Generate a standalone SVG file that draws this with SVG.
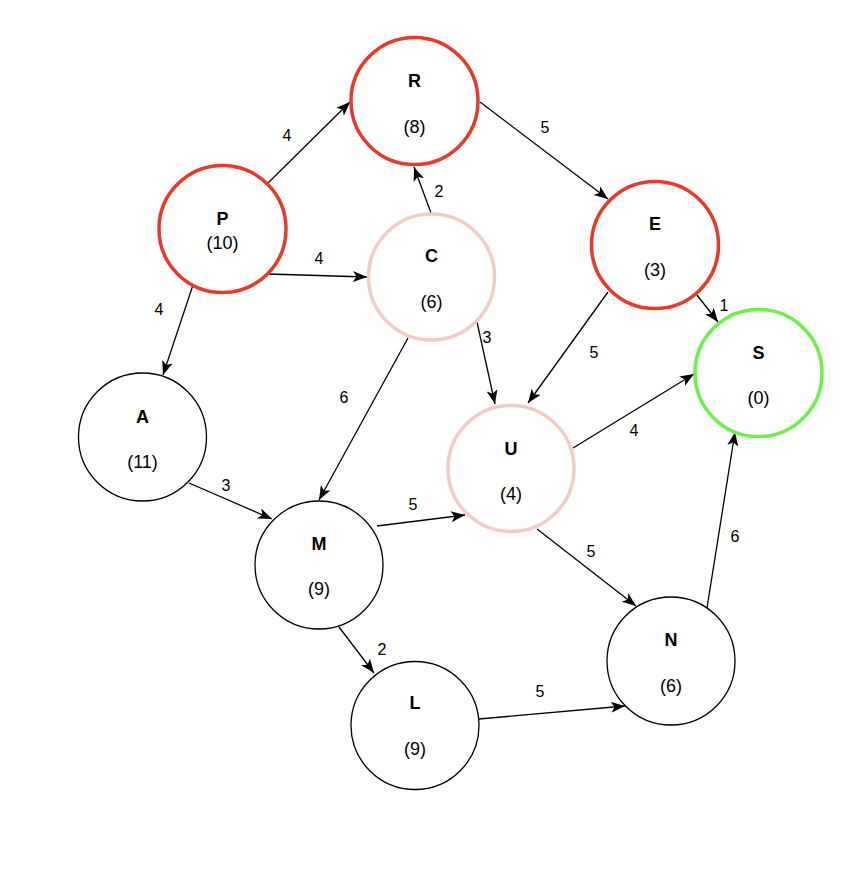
<svg xmlns="http://www.w3.org/2000/svg" width="860" height="872" viewBox="0 0 860 872">
<style>
.n{fill:#fff}
.red{stroke:#E8392B;stroke-width:3.5}
.pink{stroke:#EFCDC9;stroke-width:3.5}
.green{stroke:#6EF04C;stroke-width:3.5}
.blk{stroke:#000;stroke-width:1.3}
.t{font-family:"Liberation Sans",Arial,sans-serif;font-size:18px;text-anchor:middle;fill:#000}
.b{font-weight:bold}
.e{stroke:#000;stroke-width:1.3;fill:none;marker-end:url(#arr)}
.l{font-family:"Liberation Sans",Arial,sans-serif;font-size:16px;text-anchor:middle;fill:#000}
</style>
<defs>
<marker id="arr" markerUnits="userSpaceOnUse" markerWidth="16" markerHeight="14" refX="14" refY="5.5" orient="auto">
<path d="M0,0 L14,5.5 L0,11 L3.5,5.5 Z" fill="#000"/>
</marker>
</defs>
<rect width="860" height="872" fill="#fff"/>
<g id="connectors">
<line class="e" x1="268" y1="183" x2="350" y2="102"/>
<line class="e" x1="480" y1="102" x2="608" y2="199"/>
<line class="e" x1="431" y1="213" x2="414" y2="167"/>
<line class="e" x1="268" y1="274" x2="367" y2="277"/>
<line class="e" x1="193" y1="285" x2="163" y2="375"/>
<line class="e" x1="697" y1="295" x2="718" y2="322"/>
<line class="e" x1="608" y1="292" x2="528" y2="403"/>
<line class="e" x1="477" y1="322" x2="495" y2="404"/>
<line class="e" x1="573" y1="448" x2="694" y2="374"/>
<line class="e" x1="408" y1="338" x2="319" y2="500"/>
<line class="e" x1="189" y1="483" x2="272" y2="519"/>
<line class="e" x1="377" y1="526" x2="465" y2="515"/>
<line class="e" x1="537" y1="529" x2="636" y2="606"/>
<line class="e" x1="707" y1="608" x2="735" y2="432"/>
<line class="e" x1="339" y1="627" x2="374" y2="673"/>
<line class="e" x1="479" y1="719" x2="625" y2="706"/>
<text class="l" x="287" y="141">4</text>
<text class="l" x="545" y="133">5</text>
<text class="l" x="439" y="197">2</text>
<text class="l" x="319" y="264">4</text>
<text class="l" x="159" y="315">4</text>
<text class="l" x="594" y="358">5</text>
<text class="l" x="487" y="343">3</text>
<text class="l" x="634" y="436">4</text>
<text class="l" x="344" y="403">6</text>
<text class="l" x="226" y="491">3</text>
<text class="l" x="413" y="510">5</text>
<text class="l" x="591" y="557">5</text>
<text class="l" x="735" y="542">6</text>
<text class="l" x="382" y="655">2</text>
<text class="l" x="540" y="697">5</text>
</g>
<g id="node-R"><circle class="n red" cx="414.5" cy="101" r="63.5"/><text class="t b" x="414.5" y="86.5">R</text><text class="t" x="414.5" y="132.5">(8)</text></g>
<g id="node-P"><circle class="n red" cx="222.5" cy="229" r="63.5"/><text class="t b" x="222.5" y="224.5">P</text><text class="t" x="222.5" y="248.5">(10)</text></g>
<g id="node-C"><circle class="n pink" cx="431.5" cy="277" r="63"/><text class="t b" x="431.5" y="261.5">C</text><text class="t" x="431.5" y="307.5">(6)</text></g>
<g id="node-E"><circle class="n red" cx="655" cy="245" r="63.5"/><text class="t b" x="655" y="229.5">E</text><text class="t" x="655" y="275.5">(3)</text></g>
<g id="node-S"><circle class="n green" cx="758.5" cy="373" r="63.5"/><text class="t b" x="758.5" y="358.5">S</text><text class="t" x="758.5" y="403.5">(0)</text></g>
<text class="l" x="724" y="311">1</text>
<g id="node-A"><circle class="n blk" cx="142.5" cy="437" r="64"/><text class="t b" x="142.5" y="422.5">A</text><text class="t" x="142.5" y="467.5">(11)</text></g>
<g id="node-U"><circle class="n pink" cx="511" cy="468.5" r="63"/><text class="t b" x="511" y="454.5">U</text><text class="t" x="511" y="499.5">(4)</text></g>
<g id="node-M"><circle class="n blk" cx="319" cy="565" r="64"/><text class="t b" x="319" y="549.5">M</text><text class="t" x="319" y="594.5">(9)</text></g>
<g id="node-N"><circle class="n blk" cx="671" cy="661" r="64"/><text class="t b" x="671" y="645.5">N</text><text class="t" x="671" y="691.5">(6)</text></g>
<g id="node-L"><circle class="n blk" cx="415" cy="725.5" r="64"/><text class="t b" x="415" y="708.5">L</text><text class="t" x="415" y="754.5">(9)</text></g>
</svg>
